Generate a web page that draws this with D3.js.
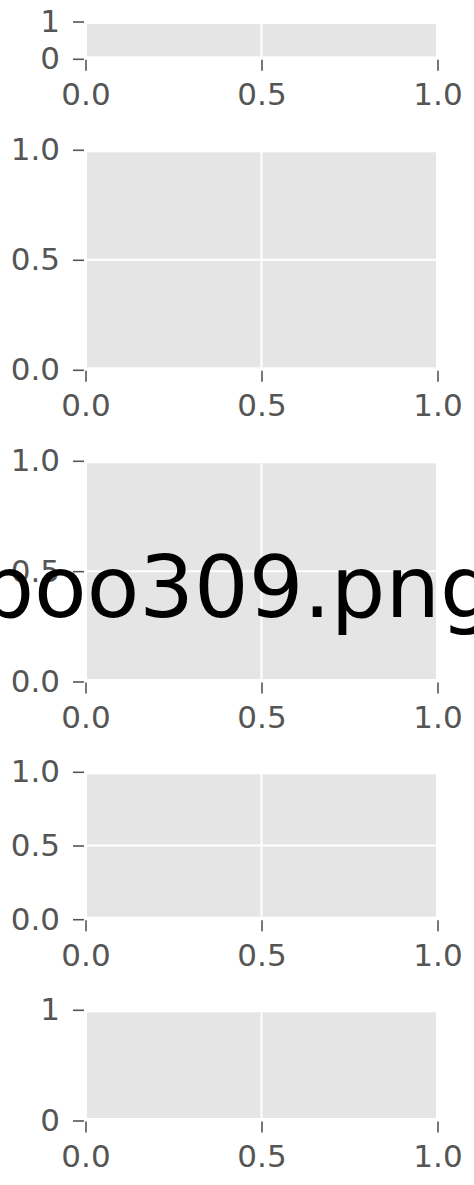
<!DOCTYPE html>
<html>
<head>
<meta charset="utf-8">
<script src="https://cdn.jsdelivr.net/npm/d3@7"></script>
<style>
  body { margin: 0; background: #fff; }
  svg { display: block; }
</style>
</head>
<body>
<div id="viz"></div>
<script>
// values
const xTicks = [0, 0.5, 1];
const xTickLabels = ["0.0", "0.5", "1.0"];
const panelNames = ["p1", "p2", "p3", "p4", "p5"];
const panelYTicks = [[0, 1], [0, 0.5, 1], [0, 0.5, 1], [0, 0.5, 1], [0, 1]];
const panelYTickLabels = [["0", "1"], ["0.0", "0.5", "1.0"], ["0.0", "0.5", "1.0"], ["0.0", "0.5", "1.0"], ["0", "1"]];
const overlayText = "boo309.png";

// layout of the five axes boxes (pixels)
const panelTop = [24, 152.3, 463.3, 774.3, 1012.3];
const panelBottom = [56.3, 367.3, 679, 916.7, 1118];
const left = 87, right = 436;

const svg = d3.select("#viz").append("svg")
  .attr("width", 474)
  .attr("height", 1185);

const font = "DejaVu Sans, sans-serif";

panelNames.forEach((name, i) => {
  const top = panelTop[i], bottom = panelBottom[i];
  const g = svg.append("g").attr("class", name);

  // scales for grid (exact box) and for ticks (slightly pushed outward, as in the picture)
  const x = d3.scaleLinear().domain([0, 1]).range([left, right]);
  const y = d3.scaleLinear().domain([0, 1]).range([bottom, top]);
  const xt = d3.scaleLinear().domain([0, 1]).range([left - 1.5, right + 1.5]);
  const yt = d3.scaleLinear().domain([0, 1]).range([bottom + 2.5, top - 2.5]);

  g.append("rect")
    .attr("x", left)
    .attr("y", top)
    .attr("width", right - left)
    .attr("height", bottom - top)
    .attr("fill", "#E5E5E5");

  const grid = g.append("g").attr("stroke", "#fff").attr("stroke-width", 2);
  grid.selectAll("line.v")
    .data(xTicks.filter(d => d > 0 && d < 1))
    .enter().append("line")
    .attr("x1", d => x(d)).attr("x2", d => x(d))
    .attr("y1", top).attr("y2", bottom);
  grid.selectAll("line.h")
    .data(panelYTicks[i].filter(d => d > 0 && d < 1))
    .enter().append("line")
    .attr("x1", left).attr("x2", right)
    .attr("y1", d => y(d)).attr("y2", d => y(d));

  const yAxis = g.append("g")
    .attr("transform", `translate(84,0)`)
    .call(d3.axisLeft(yt)
      .tickValues(panelYTicks[i])
      .tickFormat((d, k) => panelYTickLabels[i][k])
      .tickSize(11)
      .tickPadding(13)
      .tickSizeOuter(0));

  const xAxis = g.append("g")
    .attr("transform", `translate(0,${bottom + 3.5})`)
    .call(d3.axisBottom(xt)
      .tickValues(xTicks)
      .tickFormat((d, k) => xTickLabels[k])
      .tickSize(11)
      .tickSizeOuter(0));

  [yAxis, xAxis].forEach(a => {
    a.select(".domain").remove();
    a.selectAll(".tick line").attr("stroke", "#555").attr("stroke-width", 1.6);
    a.selectAll(".tick text")
      .attr("fill", "#555")
      .style("font-family", font)
      .style("font-size", "31px");
  });
  xAxis.selectAll(".tick text").attr("y", 45.5).attr("dy", 0);
});

svg.append("text")
  .attr("x", 237)
  .attr("y", 617)
  .attr("text-anchor", "middle")
  .style("font-family", font)
  .style("font-size", "86px")
  .attr("fill", "#000")
  .text(overlayText);
</script>
</body>
</html>
